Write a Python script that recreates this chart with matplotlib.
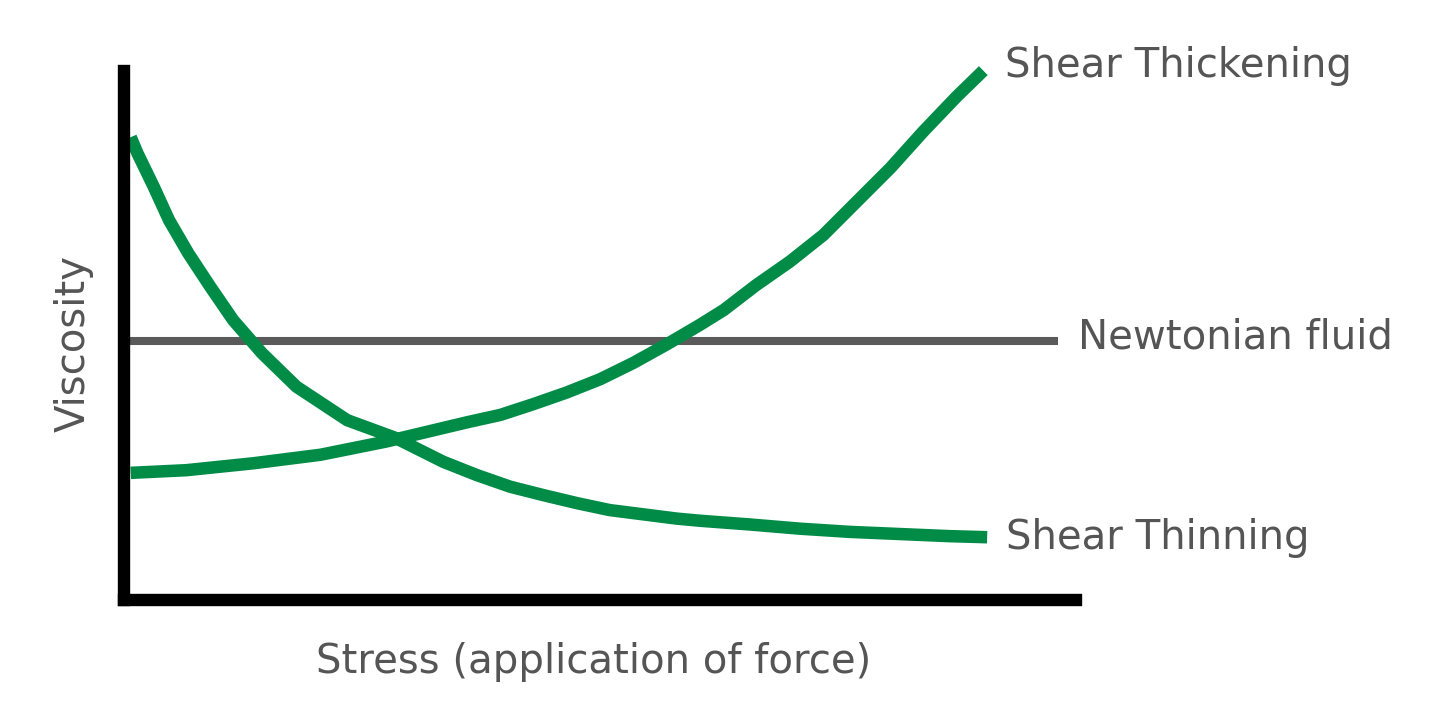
import matplotlib
matplotlib.use("Agg")
import matplotlib.pyplot as plt

# values (stress 0-100, viscosity 0-100, arbitrary units)
thin_x = [0.7, 1.4, 3.1, 4.7, 6.7, 9.0, 11.4, 14.4, 18.0, 23.3, 28.3, 33.3, 36.8, 40.3,
          43.8, 47.3, 50.7, 54.2, 57.7, 60.1, 65.3, 70.6, 75.8, 81.0, 86.2, 90.1]
thin_y = [87.0, 84.0, 77.7, 71.4, 65.2, 58.9, 52.6, 46.4, 40.1, 33.8, 30.5, 26.0, 23.5, 21.3,
          19.7, 18.2, 16.9, 16.1, 15.3, 14.9, 14.2, 13.4, 12.8, 12.4, 12.0, 11.8]

thick_x = [0.7, 6.5, 13.5, 20.5, 27.4, 32.3, 35.8, 39.3, 42.7, 46.2, 49.7, 53.2,
           56.7, 60.1, 62.6, 66.0, 69.5, 73.0, 76.5, 80.0, 83.4, 86.9, 89.7]
thick_y = [23.9, 24.4, 25.7, 27.3, 29.8, 31.9, 33.4, 34.8, 36.8, 39.0, 41.5, 44.6,
           48.1, 51.7, 54.5, 59.2, 63.6, 68.6, 74.9, 81.2, 88.0, 94.6, 99.5]

newt_x = [0.6, 97.5]
newt_y = [48.7, 48.7]

labels = ["Shear Thickening", "Newtonian fluid", "Shear Thinning"]
xlabel = "Stress (application of force)"
ylabel = "Viscosity"

green = "#008C47"
grey = "#5A5A5A"
txt = "#555555"
font = "DejaVu Sans"
fs = 29

fig = plt.figure(figsize=(14.3, 7.15), dpi=100)
ax = fig.add_axes([124 / 1430, 115 / 715, 958 / 1430, 532 / 715])
ax.set_xlim(0, 100)
ax.set_ylim(0, 100)

ax.plot(newt_x, newt_y, color=grey, lw=5.8, solid_capstyle="butt", clip_on=False)
ax.plot(thin_x, thin_y, color=green, lw=9, solid_capstyle="butt", solid_joinstyle="round", clip_on=False)
ax.plot(thick_x, thick_y, color=green, lw=9, solid_capstyle="butt", solid_joinstyle="round", clip_on=False)

# curve labels, baseline aligned just right of each line end
ax.text(thick_x[-1] + 2.3, thick_y[-1] - 1.2, labels[0], color=txt, fontsize=fs, family=font, va="baseline")
ax.text(newt_x[-1] + 2.1, newt_y[-1] - 1.5, labels[1], color=txt, fontsize=fs, family=font, va="baseline")
ax.text(thin_x[-1] + 2.0, thin_y[-1] - 2.2, labels[2], color=txt, fontsize=fs, family=font, va="baseline")

for s in ["top", "right"]:
    ax.spines[s].set_visible(False)
for s in ["left", "bottom"]:
    ax.spines[s].set_linewidth(8.9)
    ax.spines[s].set_capstyle("projecting")
    ax.spines[s].set_bounds(0, 99.4)
ax.set_xticks([])
ax.set_yticks([])

ax.set_xlabel(xlabel, color=txt, fontsize=fs, family=font, va="baseline")
ax.xaxis.set_label_coords(0.49, -0.137)
ax.set_ylabel(ylabel, color=txt, fontsize=fs, family=font, va="center", ha="center")
ax.yaxis.set_label_coords(-0.052, 0.483)

fig.savefig("out.png", dpi=100, facecolor="white")
